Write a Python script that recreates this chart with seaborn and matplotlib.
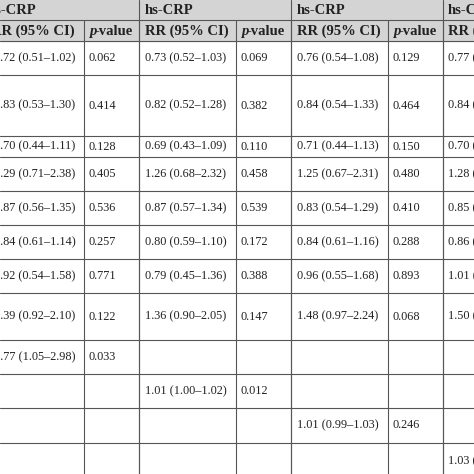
import matplotlib
matplotlib.use("Agg")
import matplotlib.pyplot as plt
import seaborn as sns

sns.set_style("white")
plt.rcParams['font.family'] = ['Liberation Serif', 'DejaVu Serif']

# table content (visible crop of a wider table)
group_headers = ["hs-CRP", "hs-CRP", "hs-CRP", "hs-CRP"]
sub_headers = ["RR (95% CI)", "p-value"]
rr1 = ["0.72 (0.51–1.02)", "0.83 (0.53–1.30)", "0.70 (0.44–1.11)", "1.29 (0.71–2.38)",
       "0.87 (0.56–1.35)", "0.84 (0.61–1.14)", "0.92 (0.54–1.58)", "1.39 (0.92–2.10)",
       "1.77 (1.05–2.98)", "", "", ""]
p1 = ["0.062", "0.414", "0.128", "0.405", "0.536", "0.257", "0.771", "0.122", "0.033", "", "", ""]
rr2 = ["0.73 (0.52–1.03)", "0.82 (0.52–1.28)", "0.69 (0.43–1.09)", "1.26 (0.68–2.32)",
       "0.87 (0.57–1.34)", "0.80 (0.59–1.10)", "0.79 (0.45–1.36)", "1.36 (0.90–2.05)",
       "", "1.01 (1.00–1.02)", "", ""]
p2 = ["0.069", "0.382", "0.110", "0.458", "0.539", "0.172", "0.388", "0.147", "", "0.012", "", ""]
rr3 = ["0.76 (0.54–1.08)", "0.84 (0.54–1.33)", "0.71 (0.44–1.13)", "1.25 (0.67–2.31)",
       "0.83 (0.54–1.29)", "0.84 (0.61–1.16)", "0.96 (0.55–1.68)", "1.48 (0.97–2.24)",
       "", "", "1.01 (0.99–1.03)", ""]
p3 = ["0.129", "0.464", "0.150", "0.480", "0.410", "0.288", "0.893", "0.068", "", "", "0.246", ""]
rr4 = ["0.77 (", "0.84 (", "0.70 (", "1.28 (", "0.85 (", "0.86 (", "1.01 (", "1.50 (",
       "", "", "", "1.03 ("]

# layout in pixels
row_edges = [41, 75, 136, 157, 191, 225, 259, 293, 340, 374, 408, 443, 480]
col_lines = [84, 139, 236, 291, 388, 443]
group_lines = [139, 291, 443]
text_x = [-6, 89, 145, 241, 297, 393, 448]
line_col = "#555555"

fig = plt.figure(figsize=(4.74, 4.74), dpi=100)
ax = fig.add_axes([0, 0, 1, 1])
ax.set_xlim(0, 474)
ax.set_ylim(474, 0)
ax.axis("off")

# header background
ax.axhspan(0, 41, color="#d4d4d4", zorder=0)
ax.axhline(20, color=line_col, lw=0.8)
for y in row_edges[:-1]:
    ax.axhline(y, color=line_col, lw=0.8)
for x in group_lines:
    ax.plot([x, x], [0, 480], color=line_col, lw=0.8)
for x in col_lines:
    ax.plot([x, x], [20, 480], color=line_col, lw=0.8)

fs = 8.8
hfs = 10.5
kw = dict(va="center", ha="left", clip_on=True, color="#222222")
group_x = [-12, 145, 297, 448]
for gx, h in zip(group_x, group_headers):
    ax.text(gx, 10, h, fontsize=hfs, fontweight="bold", **kw)
sub_x = [-9, 145, 297, 448]
for i in range(4):
    ax.text(sub_x[i], 31, sub_headers[0], fontsize=hfs, fontweight="bold", **kw)
    if i < 3:
        px = text_x[2 * i + 1]
        ax.text(px, 31, "p", fontsize=hfs, fontweight="bold", style="italic", **kw)
        ax.text(px + 6, 31, "-value", fontsize=hfs, fontweight="bold", **kw)

columns = [rr1, p1, rr2, p2, rr3, p3, rr4]
for ci, col in enumerate(columns):
    for ri, val in enumerate(col):
        yc = (row_edges[ri] + row_edges[ri + 1]) / 2
        ax.text(text_x[ci], yc, val, fontsize=fs, **kw)

fig.savefig("out.png", dpi=100)
